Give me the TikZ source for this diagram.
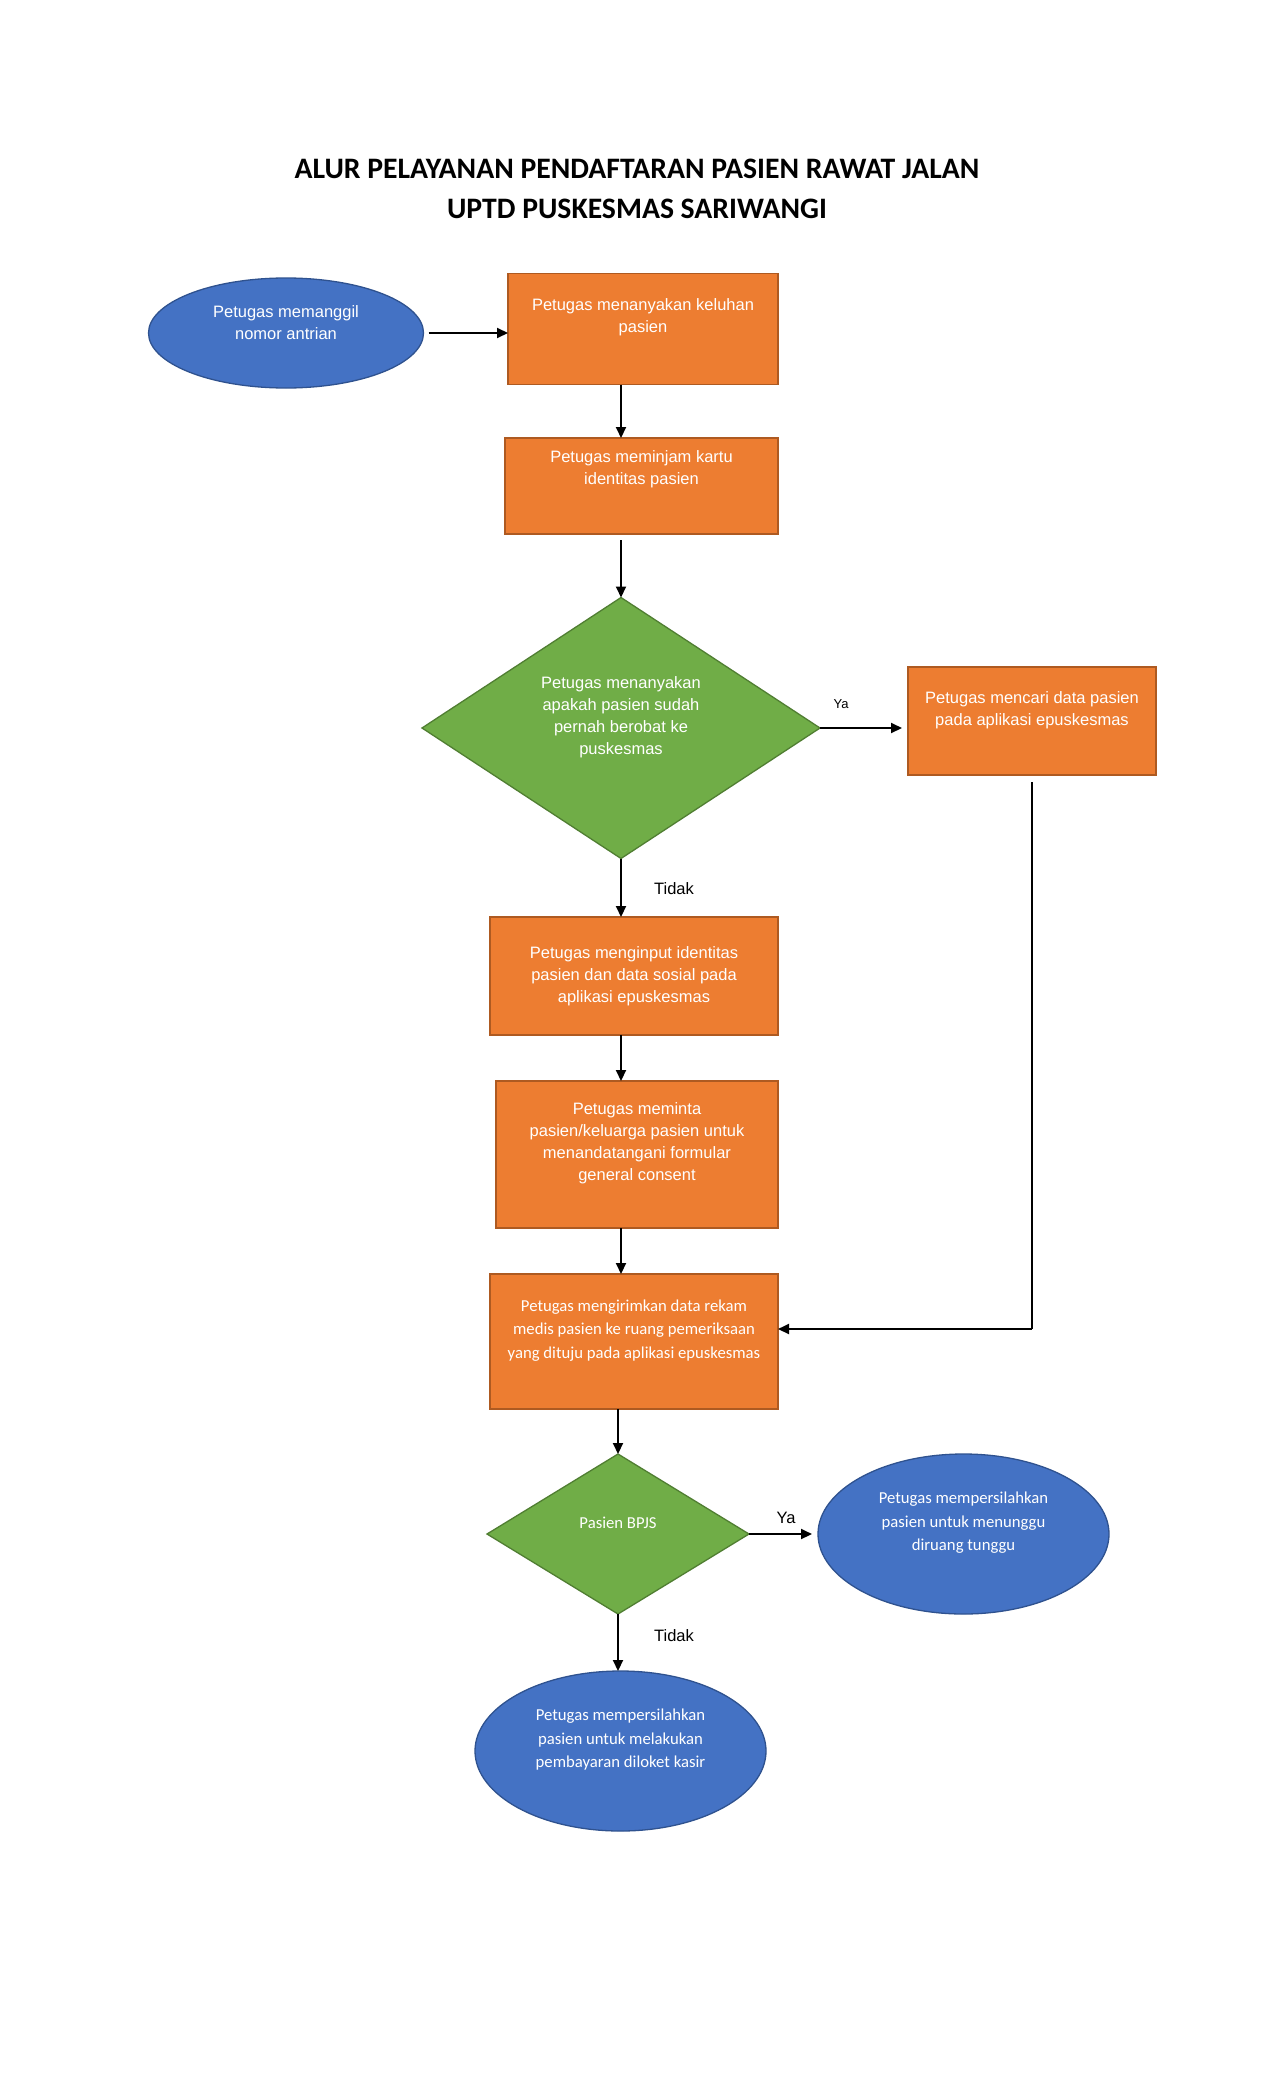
\documentclass[tikz,border=0pt]{standalone}
\usepackage{fontspec}
\setmainfont{Liberation Sans}
\newfontfamily\calfont{Carlito}
\usetikzlibrary{shapes.geometric,arrows.meta}
\definecolor{blueC}{HTML}{4472C4}
\definecolor{blueD}{HTML}{2F528F}
\definecolor{orangeC}{HTML}{ED7D31}
\definecolor{orangeD}{HTML}{AE5A21}
\definecolor{greenC}{HTML}{70AD47}
\definecolor{greenD}{HTML}{507E32}
\begin{document}
\begin{tikzpicture}[x=1pt,y=-1pt,
  every node/.style={inner sep=0pt, outer sep=0pt},
  boxC/.style={rectangle, draw=orangeD, fill=orangeC, line width=1.3pt},
  ellC/.style={ellipse, draw=blueD, fill=blueC, line width=1.3pt},
  diaC/.style={diamond, draw=greenD, fill=greenC, line width=1.3pt},
  txtA/.style={text=white, align=center, font=\fontsize{16.5}{22}\selectfont},
  txtB/.style={text=white, align=center, font=\calfont\fontsize{16.7}{23.5}\selectfont},
  lab/.style={text=black, font=\fontsize{16.5}{20}\selectfont},
  arr/.style={draw=black, line width=2pt, -{Triangle[length=11pt,width=10pt]}},
  ln/.style={draw=black, line width=2pt}]
\fill[white] (0,0) rectangle (1275,2100);
\useasboundingbox (0,0) rectangle (1275,2100);

% title
\node[font=\calfont\bfseries\fontsize{29.7}{34}\selectfont] (t1) at (637,169) {ALUR PELAYANAN PENDAFTARAN PASIEN RAWAT JALAN};
\node[font=\calfont\bfseries\fontsize{29.7}{34}\selectfont] (t2) at (637,209) {UPTD PUSKESMAS SARIWANGI};

% shapes
\node[ellC, minimum width=275pt, minimum height=110pt] (e1) at (286,333) {};
\node[boxC, minimum width=270pt, minimum height=111pt] (b1) at (643,329) {};
\node[boxC, minimum width=273pt, minimum height=96pt] (b2) at (641.5,486) {};
\node[diaC, minimum width=398pt, minimum height=261pt] (d1) at (621,728) {};
\node[boxC, minimum width=248pt, minimum height=108pt] (b3) at (1032,721) {};
\node[boxC, minimum width=288pt, minimum height=118pt] (b4) at (634,976) {};
\node[boxC, minimum width=282pt, minimum height=147pt] (b5) at (637,1154.5) {};
\node[boxC, minimum width=288pt, minimum height=135pt] (b6) at (634,1341.5) {};
\node[diaC, minimum width=262pt, minimum height=160pt] (d2) at (618,1534) {};
\node[ellC, minimum width=291pt, minimum height=160pt] (e2) at (963.5,1534) {};
\node[ellC, minimum width=291pt, minimum height=160pt] (e3) at (620.5,1751) {};

% texts
\node[txtA] (te1) at ([yshift=10pt]e1.center) {Petugas memanggil\\nomor antrian};
\node[txtA] (tb1) at ([yshift=12pt]b1.center) {Petugas menanyakan keluhan\\pasien};
\node[txtA] (tb2) at ([yshift=17pt]b2.center) {Petugas meminjam kartu\\identitas pasien};
\node[txtA] (td1) at ([yshift=11pt]d1.center) {Petugas menanyakan\\apakah pasien sudah\\pernah berobat ke\\puskesmas};
\node[txtA] (tb3) at ([yshift=11pt]b3.center) {Petugas mencari data pasien\\pada aplikasi epuskesmas};
\node[txtA] (tb4) at ([yshift=0pt]b4.center) {Petugas menginput identitas\\pasien dan data sosial pada\\aplikasi epuskesmas};
\node[txtA] (tb5) at ([yshift=11pt]b5.center) {Petugas meminta\\pasien/keluarga pasien untuk\\menandatangani formular\\general consent};
\node[txtB] (tb6) at ([yshift=11pt]b6.center) {Petugas mengirimkan data rekam\\medis pasien ke ruang pemeriksaan\\yang dituju pada aplikasi epuskesmas};
\node[txtB] (td2) at ([yshift=11pt]d2.center) {Pasien BPJS};
\node[txtB] (te2) at ([yshift=11pt]e2.center) {Petugas mempersilahkan\\pasien untuk menunggu\\diruang tunggu};
\node[txtB] (te3) at ([yshift=11pt]e3.center) {Petugas mempersilahkan\\pasien untuk melakukan\\pembayaran diloket kasir};

% connectors
\draw[arr] ([xshift=5pt]e1.east) -- (b1.west |- e1.east);
\draw[arr] (d1 |- b1.south) -- (d1 |- b2.north);
\draw[arr] ([yshift=-6pt]d1 |- b2.south) -- (d1.north);
\draw[arr] (d1.east) -- ([xshift=-6pt]b3.west |- d1.east) coordinate (ya1);
\draw[arr] (d1.south) -- (d1 |- b4.north);
\draw[arr] (d1 |- b4.south) -- (d1 |- b5.north);
\draw[arr] (d1 |- b5.south) -- (d1 |- b6.north);
\coordinate (c1) at ([yshift=-7pt]b3.south);
\coordinate (c2) at (c1 |- 0,1329);
\draw[ln] (c1) -- (c2);
\draw[arr] (c2) -- (b6.east |- c2);
\draw[arr] (d2 |- b6.south) -- (d2.north);
\draw[arr] (d2.east) -- ([xshift=-6pt]e2.west);
\draw[arr] (d2.south) -- (d2 |- e3.north);

% labels
\node[lab, font=\fontsize{13}{16}\selectfont] (ly1) at (841,704) {Ya};
\node[lab] (lt1) at (674,889) {Tidak};
\node[lab] (ly2) at (786,1518) {Ya};
\node[lab] (lt2) at (674,1636) {Tidak};
\end{tikzpicture}
\end{document}
